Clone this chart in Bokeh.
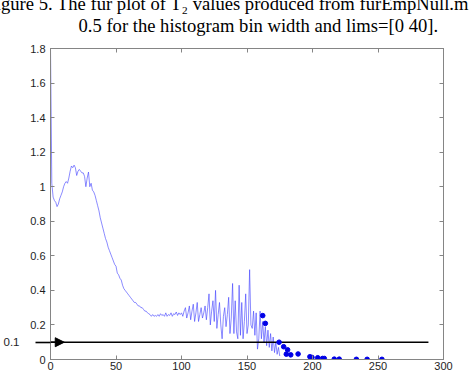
from bokeh.plotting import figure
from bokeh.models import (Range1d, FixedTicker, LinearAxis, Arrow, NormalHead,
                          Title, CustomJSTickFormatter)
from bokeh.embed import file_html
from bokeh.resources import INLINE

# ---- data ----
curve_x = list(range(0, 176))
curve_y = [
    1.80, 1.02, 0.94, 0.92, 0.91, 0.885, 0.90, 0.93, 0.95, 0.97,   # 0-9
    1.00, 1.02, 1.03, 1.02, 1.05, 1.09, 1.12, 1.11, 1.125, 1.11,   # 10-19
    1.065, 1.09, 1.10, 1.09, 1.08, 1.08, 1.06, 1.00, 1.05, 1.085,  # 20-29
    1.00, 1.02, 0.98, 0.97, 0.95, 0.92, 0.89, 0.86, 0.82, 0.79,    # 30-39
    0.76, 0.73, 0.70, 0.68, 0.65, 0.63, 0.61, 0.59, 0.57, 0.55,    # 40-49
    0.54, 0.50, 0.49, 0.47, 0.46, 0.43, 0.41, 0.40, 0.39, 0.38,    # 50-59
    0.37, 0.36, 0.35, 0.34, 0.33, 0.33, 0.32, 0.31, 0.31, 0.30,    # 60-69
    0.30, 0.29, 0.28, 0.28, 0.27, 0.265, 0.26, 0.25, 0.26, 0.25,   # 70-79
    0.255, 0.25, 0.26, 0.25, 0.265, 0.255, 0.26, 0.25, 0.27, 0.25, # 80-89
    0.26, 0.255, 0.27, 0.25, 0.265, 0.26, 0.275, 0.255, 0.27, 0.26,  # 90-99
    0.27, 0.25, 0.28, 0.30, 0.24, 0.27, 0.31, 0.23, 0.28, 0.32,    # 100-109
    0.22, 0.27, 0.33, 0.22, 0.26, 0.30, 0.24, 0.27, 0.31, 0.23,    # 110-119
    0.30, 0.38, 0.20, 0.28, 0.34, 0.22, 0.40, 0.18, 0.26, 0.33,    # 120-129
    0.20, 0.12, 0.25, 0.30, 0.19, 0.26, 0.36, 0.15, 0.24, 0.44,    # 130-139
    0.15, 0.34, 0.16, 0.12, 0.43, 0.14, 0.33, 0.12, 0.22, 0.38,    # 140-149
    0.15, 0.20, 0.52, 0.20, 0.18, 0.28, 0.14, 0.27, 0.06, 0.12,    # 150-159
    0.28, 0.12, 0.22, 0.10, 0.19, 0.08, 0.17, 0.07, 0.15, 0.05,    # 160-169
    0.13, 0.04, 0.10, 0.03, 0.07, 0.02,                            # 170-175
]

dot_x = [162, 164, 174.5, 178, 181, 180, 183.4, 189, 198, 199.6, 204,
         207.7, 209, 216.6, 220.4, 233.5, 241.7, 253]
dot_y = [0.254, 0.209, 0.10, 0.074, 0.056, 0.031, 0.027, 0.032, 0.016, 0.012,
         0.01, 0.006, 0.006, 0.002, 0.002, 0.001, 0.001, 0.001]

threshold = 0.1
threshold_x = [0, 288.5]
arrow_tip_x = 10.5

x_ticks = [0, 50, 100, 150, 200, 250, 300]
y_ticks = [0, 0.2, 0.4, 0.6, 0.8, 1, 1.2, 1.4, 1.6, 1.8]

title_line1 = "Figure 5. The fur plot of T\u2082 values produced from furEmpNull.m"
title_line2 = "0.5 for the histogram bin width and lims=[0 40]."

# ---- figure ----
GRAY = "#858585"
TXT = "#1e1e1e"

p = figure(width=474, height=372, output_backend="svg", toolbar_location=None,
           x_range=Range1d(0, 300), y_range=Range1d(0, 1.8),
           min_border_left=49, min_border_right=31, min_border_top=48,
           min_border_bottom=0)
p.xgrid.visible = False
p.ygrid.visible = False
p.outline_line_color = GRAY

def style_axis(ax, labels=True):
    ax.axis_line_color = GRAY
    ax.major_tick_line_color = GRAY
    ax.major_tick_in = 4
    ax.major_tick_out = 0
    ax.minor_tick_line_color = None
    ax.major_label_text_font = "Liberation Sans"
    ax.major_label_text_font_size = "11px"
    ax.major_label_text_color = TXT
    if not labels:
        ax.formatter = CustomJSTickFormatter(code="return ''")
        ax.major_label_standoff = 0

p.xaxis.ticker = FixedTicker(ticks=x_ticks)
p.yaxis.ticker = FixedTicker(ticks=y_ticks)
style_axis(p.xaxis[0])
style_axis(p.yaxis[0])
p.xaxis.major_label_standoff = 2
p.yaxis.major_label_standoff = 5
p.yaxis.major_label_overrides = {0: "0", 1: "1"}

top_ax = LinearAxis(ticker=FixedTicker(ticks=x_ticks))
right_ax = LinearAxis(ticker=FixedTicker(ticks=y_ticks))
style_axis(top_ax, labels=False)
style_axis(right_ax, labels=False)
p.add_layout(top_ax, "above")
p.add_layout(right_ax, "right")

# threshold marker axis ("0.1" label with the arrow's tail outside the frame)
thr_ax = LinearAxis(ticker=FixedTicker(ticks=[threshold]))
thr_ax.axis_line_color = None
thr_ax.minor_tick_line_color = None
thr_ax.major_tick_line_color = "black"
thr_ax.major_tick_line_width = 1.6
thr_ax.major_tick_in = 23
thr_ax.major_tick_out = -8
thr_ax.major_label_standoff = 8
thr_ax.major_label_text_font = "Liberation Sans"
thr_ax.major_label_text_font_size = "11.5px"
thr_ax.major_label_text_color = TXT
p.add_layout(thr_ax, "left")

# titles
t2 = Title(text=title_line2, align="left", offset=28, text_font="Liberation Serif",
           text_font_size="18.6px", text_font_style="normal", text_color="black",
           standoff=21, vertical_align="top")
t1 = Title(text=title_line1, align="left", offset=-65, text_font="Liberation Serif",
           text_font_size="18.6px", text_font_style="normal", text_color="black",
           standoff=-21, vertical_align="middle")
p.add_layout(t2, "above")
p.add_layout(t1, "above")

# curve
p.line(curve_x, curve_y, line_color="#4646ff", line_width=0.7, line_alpha=0.9)

# threshold line + arrow head
p.line(threshold_x, [threshold, threshold], line_color="black", line_width=1.6)
p.add_layout(Arrow(end=NormalHead(size=9, fill_color="black", line_color="black"),
                   x_start=0, y_start=threshold,
                   x_end=arrow_tip_x, y_end=threshold,
                   line_color="black", line_width=1.6))

p.scatter(dot_x, dot_y, size=4.6, fill_color="#0000e6", line_color="#0000e6")

open("out.html", "w").write(file_html(p, INLINE))
